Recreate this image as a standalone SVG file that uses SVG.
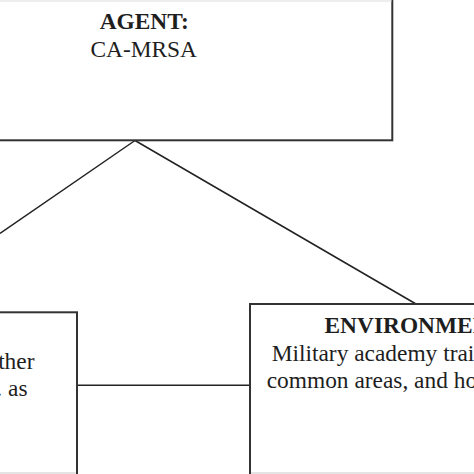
<svg xmlns="http://www.w3.org/2000/svg" width="474" height="474" viewBox="0 0 474 474">
<style>
.box{fill:#ffffff;stroke:#333333;stroke-width:2}
.edge{stroke:#222222;stroke-width:1.5;fill:none}
.t{font-family:"Liberation Serif","Times New Roman",serif;font-size:23.4px;fill:#1e1e1e}
.b{font-weight:bold}
.shade{fill:#e4e4e4;stroke:none}
</style>
<rect width="474" height="474" fill="#ffffff"/>
<g id="connectors">
<line class="edge" x1="135" y1="140.5" x2="0" y2="233.5"/>
<line class="edge" x1="135" y1="140.5" x2="416" y2="304"/>
<line class="edge" x1="77" y1="385.3" x2="250" y2="385.3"/>
</g>
<g id="agent">
<rect class="box" x="-104" y="-20" width="496.3" height="160.3"/>
<rect x="0" y="0" width="391.3" height="2" style="fill:#eeeeee"/>
<text class="t b" x="144.3" y="29.3" text-anchor="middle">AGENT:</text>
<text class="t" x="143.7" y="56.7" text-anchor="middle">CA-MRSA</text>
</g>
<g id="host">
<rect class="box" x="-310" y="312.3" width="387" height="200"/>
<rect class="shade" x="0" y="472" width="75.7" height="2"/>
<text class="t" x="34.5" y="369" text-anchor="end">ther</text>
<text class="t" x="27.5" y="395.7" text-anchor="end">. as</text>
</g>
<g id="environment">
<rect class="box" x="250" y="304" width="332" height="210"/>
<rect class="shade" x="251" y="472" width="223" height="2"/>
<text class="t b" x="324.5" y="333.3">ENVIRONMEN</text>
<text class="t" x="271.7" y="360.7">Military academy trai</text>
<text class="t" x="266.7" y="387.7">common areas, and ho</text>
</g>
</svg>
